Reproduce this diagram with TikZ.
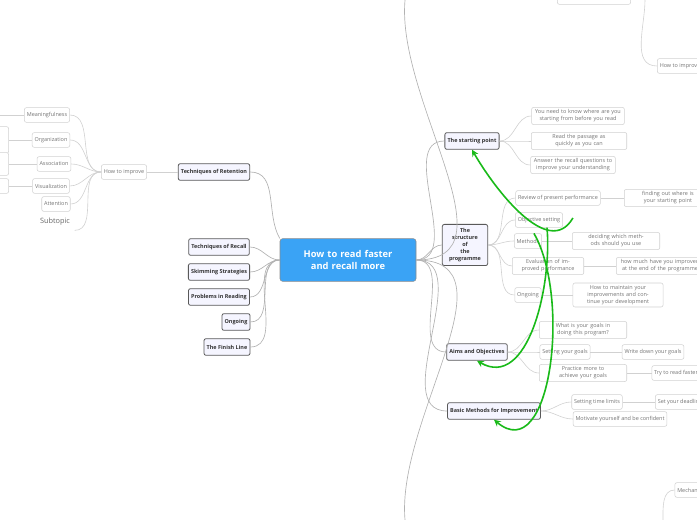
\documentclass[tikz,border=0pt]{standalone}
\usepackage{fontspec}
\setmainfont{Open Sans}
\usetikzlibrary{arrows.meta}
\begin{document}
\begin{tikzpicture}[x=0.75pt,y=-0.75pt,
  sub/.style={draw=black!18,rounded corners=1.5pt,fill=white,text=black!55,font=\fontsize{4.1}{5.2}\selectfont,align=center,inner sep=1.8pt,minimum height=11pt},
  main/.style={draw=black!65,rounded corners=1.5pt,fill=blue!4,text=black!80,font=\fontsize{4.1}{5.2}\selectfont\bfseries,align=center,inner sep=2pt,minimum height=12.5pt,line width=0.6pt},
  ln/.style={draw=black!30,line width=0.5pt},
  sl/.style={draw=black!18,line width=0.45pt},
  gr/.style={draw=green!70!black!90,line width=1.2pt,-{Stealth[length=5pt,width=5pt]}}]
\useasboundingbox (0,0) rectangle (697,520);
\definecolor{cblue}{HTML}{3AA3F5}
% central
\node[draw=black!45,fill=cblue,rounded corners=2pt,text=white,font=\fontsize{7}{9}\selectfont\bfseries,align=center,text width=90pt,minimum height=32pt,minimum width=102pt] (c) at (348,260) {How to read faster and recall more};
% left main
\node[main] (tret) at (214,172) {Techniques of Retention};
\node[main] (trec) at (219,247) {Techniques of Recall};
\node[main] (skim) at (219,272) {Skimming Strategies};
\node[main] (prob) at (219,297) {Problems in Reading};
\node[main] (ong) at (236,322) {Ongoing};
\node[main] (fin) at (227,347) {The Finish Line};
\foreach \n in {trec,skim,prob,ong,fin} \draw[ln] (c.west) to[out=180,in=0] (\n.east);
\draw[ln] (c.north west) to[out=120,in=0] (tret.east);
\node[sub] (hti) at (124,172) {How to improve};
\draw[sl] (tret.west) -- (hti.east);
\node[sub] (mea) at (47,115) {Meaningfulness};
\node[sub] (org) at (51,140) {Organization};
\node[sub] (ass) at (54,164) {Association};
\node[sub] (vis) at (51,186) {Visualization};
\node[sub] (att) at (56,204) {Attention};
\node[text=black!60,font=\fontsize{5.5}{6}\selectfont] (subt) at (55,222) {Subtopic};
\foreach \n in {mea,org,ass,vis,att} \draw[sl] (hti.west) to[out=180,in=0] (\n.east);
\draw[sl] (hti.west) to[out=180,in=0] (subt.south east);
\node[sub,minimum width=25pt,minimum height=20pt] (l1) at (-8,140) {};
\node[sub,minimum width=25pt,minimum height=17pt] (l2) at (-8,164) {\phantom{x}};
\node[sub,minimum width=25pt] (l3) at (-8,186) {};
\draw[sl] (org.west) -- (l1.east); \draw[sl] (ass.west) -- (l2.east); \draw[sl] (vis.west) -- (l3.east);
\coordinate (lm) at (0,115); \draw[sl] (mea.west) -- (lm);
% right
\node[main] (sp) at (472,141) {The starting point};
\node[sub,text width=66pt] (sp1) at (578,116) {You need to know where are you starting from before you read};
\node[sub,text width=68pt] (sp2) at (579,141) {Read the passage as quickly as you can};
\node[sub,text width=60pt] (sp3) at (573,165) {Answer the recall questions to improve your understanding};
\foreach \n in {sp1,sp2,sp3} \draw[sl] (sp.east) to[out=0,in=180] (\n.west);
\node[main,text width=28pt,inner sep=3pt] (str) at (465,245) {The\\structure\\of\\the\\programme};
\node[sub] (s1) at (558,198) {Review of present performance};
\node[sub,text width=62pt] (s1a) at (668,198) {finding out where is your starting point};
\node[sub] (s2) at (539,220) {Objective setting};
\node[sub,text width=62pt] (s3a) at (616,241) {deciding which methods should you use};
\node[sub] (s3) at (528,241) {Methods};
\node[sub,text width=50pt] (s4) at (548,266) {Evaluation of improved performance};
\node[sub,text width=62pt] (s4a) at (660,266) {how much have you improved at the end of the programme};
\node[sub] (s5) at (528,295) {Ongoing};
\node[sub,text width=64pt] (s5a) at (618,295) {How to maintain your improvements and continue your development};
\foreach \n in {s1,s2,s3,s4,s5} \draw[sl] (str.east) to[out=0,in=180] (\n.west);
\draw[sl] (s1.east)--(s1a.west); \draw[sl] (s3.east)--(s3a.west); \draw[sl] (s4.east)--(s4a.west); \draw[sl] (s5.east)--(s5a.west);
\node[main] (aim) at (477,352) {Aims and Objectives};
\node[sub,text width=62pt] (a1) at (583,330) {What is your goals in doing this program?};
\node[sub] (a2) at (565,352) {Setting your goals};
\node[sub] (a2a) at (653,352) {Write down your goals};
\node[sub,text width=62pt] (a3) at (583,373) {Practice more to achieve your goals};
\node[sub] (a3a) at (676,373) {Try to read faster};
\foreach \n in {a1,a2,a3} \draw[sl] (aim.east) to[out=0,in=180] (\n.west);
\draw[sl] (a2.east)--(a2a.west); \draw[sl] (a3.east)--(a3a.west);
\node[main] (bas) at (494,411) {Basic Methods for Improvement};
\node[sub] (b1) at (597,402) {Setting time limits};
\node[sub] (b1a) at (680,402) {Set your deadline};
\node[sub] (b2) at (620,419) {Motivate yourself and be confident};
\foreach \n in {b1,b2} \draw[sl] (bas.east) to[out=0,in=180] (\n.west);
\draw[sl] (b1.east)--(b1a.west);
\foreach \n in {sp,str,aim,bas} \draw[ln] (c.east) to[out=0,in=180] (\n.west);
% top / bottom
\coordinate (top) at (405,0); \coordinate (bot) at (405,520);
\draw[ln] (c.east) to[out=0,in=-95] (top);
\draw[ln] (c.east) to[out=0,in=95] (bot);
\node[sub,minimum width=55pt] (tb) at (594,-3) {};
\node[sub] (thi) at (680,66) {How to improve};
\coordinate (tl) at (645,0);
\draw[sl] (tl) to[out=-90,in=180] (thi.west);
\node[sub] (mech) at (692,490) {Mechanism};
\coordinate (bl) at (663,520);
\draw[sl] (bl) to[out=90,in=180] (mech.west);
% green relations
\draw[gr] (s2.east) ++(10,-2) to[out=240,in=-60] (sp.south);
\draw[gr] (s2.south) ++(8,0) to[out=-85,in=-30] (aim.south);
\draw[gr] (s3.north east) ++(-8,0) to[out=-60,in=-40] (bas.south);
\end{tikzpicture}
\end{document}
